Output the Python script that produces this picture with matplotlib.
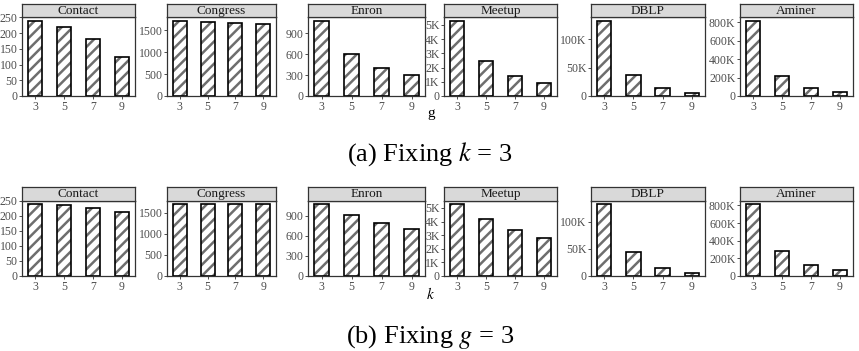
import matplotlib
matplotlib.use("Agg")
import matplotlib.pyplot as plt
from matplotlib.ticker import FuncFormatter

plt.rcParams["font.family"] = "Liberation Serif"
plt.rcParams["mathtext.fontset"] = "stix"
plt.rcParams["hatch.linewidth"] = 1.8

W, H = 859, 351

xs = [3, 5, 7, 9]
datasets = ["Contact", "Congress", "Enron", "Meetup", "DBLP", "Aminer"]

# row (a): fixing k = 3, varying g
contact_g = [239, 218, 180, 123]
congress_g = [1712, 1690, 1667, 1629]
enron_g = [1076, 595, 395, 295]
meetup_g = [5280, 2430, 1380, 890]
dblp_g = [132000, 36000, 13500, 4700]
aminer_g = [815000, 216000, 84000, 44000]

# row (b): fixing g = 3, varying k
contact_k = [239, 235, 226, 212]
congress_k = [1712, 1712, 1711, 1711]
enron_k = [1076, 910, 790, 700]
meetup_k = [5280, 4190, 3370, 2780]
dblp_k = [132000, 44000, 14000, 5000]
aminer_k = [815000, 281000, 120000, 67000]

yticks = {
    "Contact": [0, 50, 100, 150, 200, 250],
    "Congress": [0, 500, 1000, 1500],
    "Enron": [0, 300, 600, 900],
    "Meetup": [0, 1000, 2000, 3000, 4000, 5000],
    "DBLP": [0, 50000, 100000],
    "Aminer": [0, 200000, 400000, 600000, 800000],
}

# pixel extents of each panel (left, right)
cols = [(22, 135), (167, 276), (308, 425), (444, 557), (591, 705), (740, 853)]
# rows: (strip top, panel top, panel bottom)
rows = [(4, 17, 96), (187, 200.5, 276)]


def kfmt(v, _):
    if v == 0:
        return "0"
    if v >= 1000:
        return f"{v / 1000:g}K"
    return f"{v:g}"


def rect(x0, x1, ytop, ybot):
    return [x0 / W, (H - ybot) / H, (x1 - x0) / W, (ybot - ytop) / H]


fig = plt.figure(figsize=(W / 100, H / 100), dpi=100)

row_data = [
    [contact_g, congress_g, enron_g, meetup_g, dblp_g, aminer_g],
    [contact_k, congress_k, enron_k, meetup_k, dblp_k, aminer_k],
]

for r, (stop, ptop, pbot) in enumerate(rows):
    for c, (x0, x1) in enumerate(cols):
        name = datasets[c]
        vals = row_data[r][c]
        ax = fig.add_axes(rect(x0, x1, ptop, pbot))
        ax.bar(xs, vals, width=1.0, color="white", edgecolor="#6e6e6e",
               hatch="///", linewidth=0)
        ax.bar(xs, vals, width=1.0, fill=False, edgecolor="black",
               linewidth=1.2)
        ax.set_xlim(2.1, 9.9)
        ax.set_ylim(0, max(vals) * 1.05)
        ax.set_xticks(xs)
        ax.set_yticks(yticks[name])
        if name in ("Meetup", "DBLP", "Aminer"):
            ax.yaxis.set_major_formatter(FuncFormatter(kfmt))
        ax.tick_params(labelsize=8.5, colors="#4d4d4d", length=2.5, width=0.7,
                       pad=0.8)
        for s in ax.spines.values():
            s.set_color("#333333")
            s.set_linewidth(0.9)

        sax = fig.add_axes(rect(x0, x1, stop, ptop))
        sax.set_facecolor("#d9d9d9")
        sax.set_xticks([])
        sax.set_yticks([])
        for s in sax.spines.values():
            s.set_color("#333333")
            s.set_linewidth(0.9)
        sax.text(0.5, 0.45, name, ha="center", va="center", fontsize=9.5,
                 color="#1a1a1a", transform=sax.transAxes)

fig.text(431 / W, 1 - 114 / H, "g", ha="center", va="center", fontsize=11)
fig.text(431 / W, 1 - 294 / H, "$k$", ha="center", va="center", fontsize=11)

fig.text(430 / W, 1 - 161 / H, "(a) Fixing $k$ = 3", ha="center",
         va="baseline", fontsize=19)
fig.text(430 / W, 1 - 343 / H, "(b) Fixing $g$ = 3", ha="center",
         va="baseline", fontsize=19)

fig.savefig("out.png", dpi=100)
